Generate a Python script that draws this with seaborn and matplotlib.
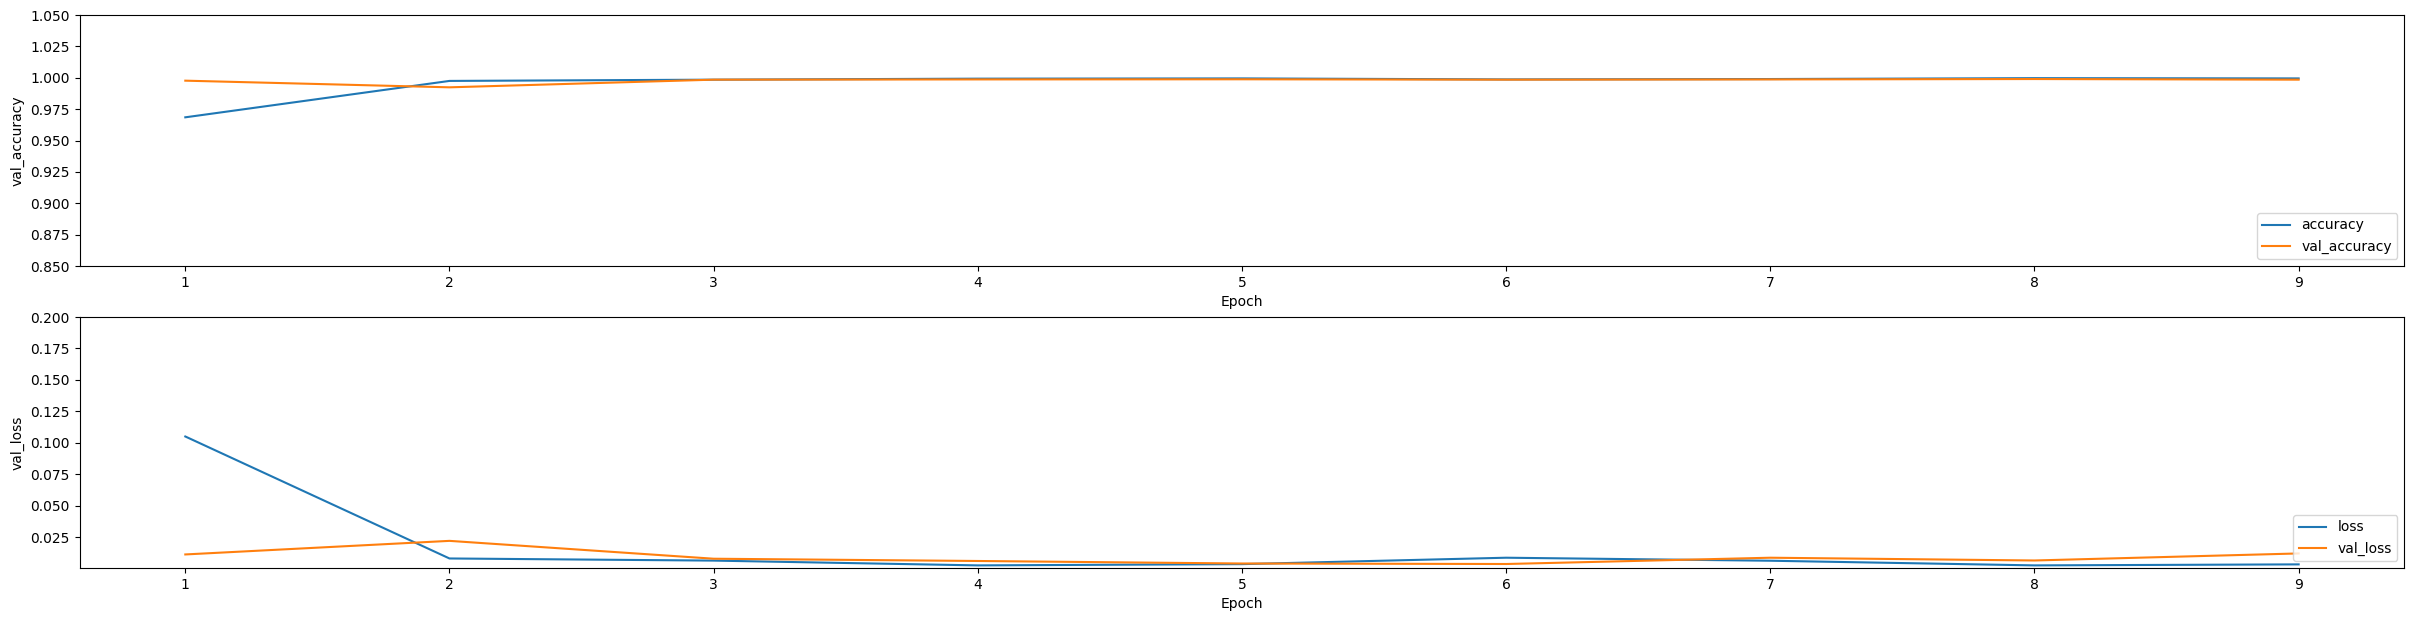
import pandas as pd
import matplotlib
matplotlib.use("Agg")
import matplotlib.pyplot as plt
import seaborn as sns

# Training history
epochs = [1, 2, 3, 4, 5, 6, 7, 8, 9]
accuracy = [0.9685, 0.9975, 0.9985, 0.9993, 0.9995, 0.9987, 0.9990, 0.9997, 0.9995]
val_accuracy = [0.9977, 0.9924, 0.9985, 0.9987, 0.9988, 0.9985, 0.9987, 0.9990, 0.9985]
loss = [0.105, 0.008, 0.0063, 0.0025, 0.0035, 0.0086, 0.0062, 0.0025, 0.0033]
val_loss = [0.0112, 0.022, 0.0078, 0.006, 0.004, 0.0036, 0.0086, 0.0064, 0.012]

acc_df = pd.DataFrame({"Epoch": epochs, "accuracy": accuracy, "val_accuracy": val_accuracy})
loss_df = pd.DataFrame({"Epoch": epochs, "loss": loss, "val_loss": val_loss})

fig, (ax1, ax2) = plt.subplots(2, 1, figsize=(24.13, 6.21), dpi=100)
fig.subplots_adjust(left=0.033, right=0.9964, top=0.9758, bottom=0.0853, hspace=0.203)

# accuracy panel
sns.lineplot(data=acc_df, x="Epoch", y="accuracy", ax=ax1, label="accuracy", color="#1f77b4")
sns.lineplot(data=acc_df, x="Epoch", y="val_accuracy", ax=ax1, label="val_accuracy", color="#ff7f0e")
ax1.set_ylim(0.85, 1.05)
ax1.set_ylabel("val_accuracy")
ax1.set_xlabel("Epoch")
ax1.legend(loc="lower right")

# loss panel
sns.lineplot(data=loss_df, x="Epoch", y="loss", ax=ax2, label="loss", color="#1f77b4")
sns.lineplot(data=loss_df, x="Epoch", y="val_loss", ax=ax2, label="val_loss", color="#ff7f0e")
ax2.set_ylim(0.0004, 0.2)
ax2.set_ylabel("val_loss")
ax2.set_xlabel("Epoch")
ax2.legend(loc="lower right")

for ax in (ax1, ax2):
    ax.set_xticks(epochs)
    ax.set_xlim(0.6, 9.4)

fig.savefig("out.png", dpi=100)
